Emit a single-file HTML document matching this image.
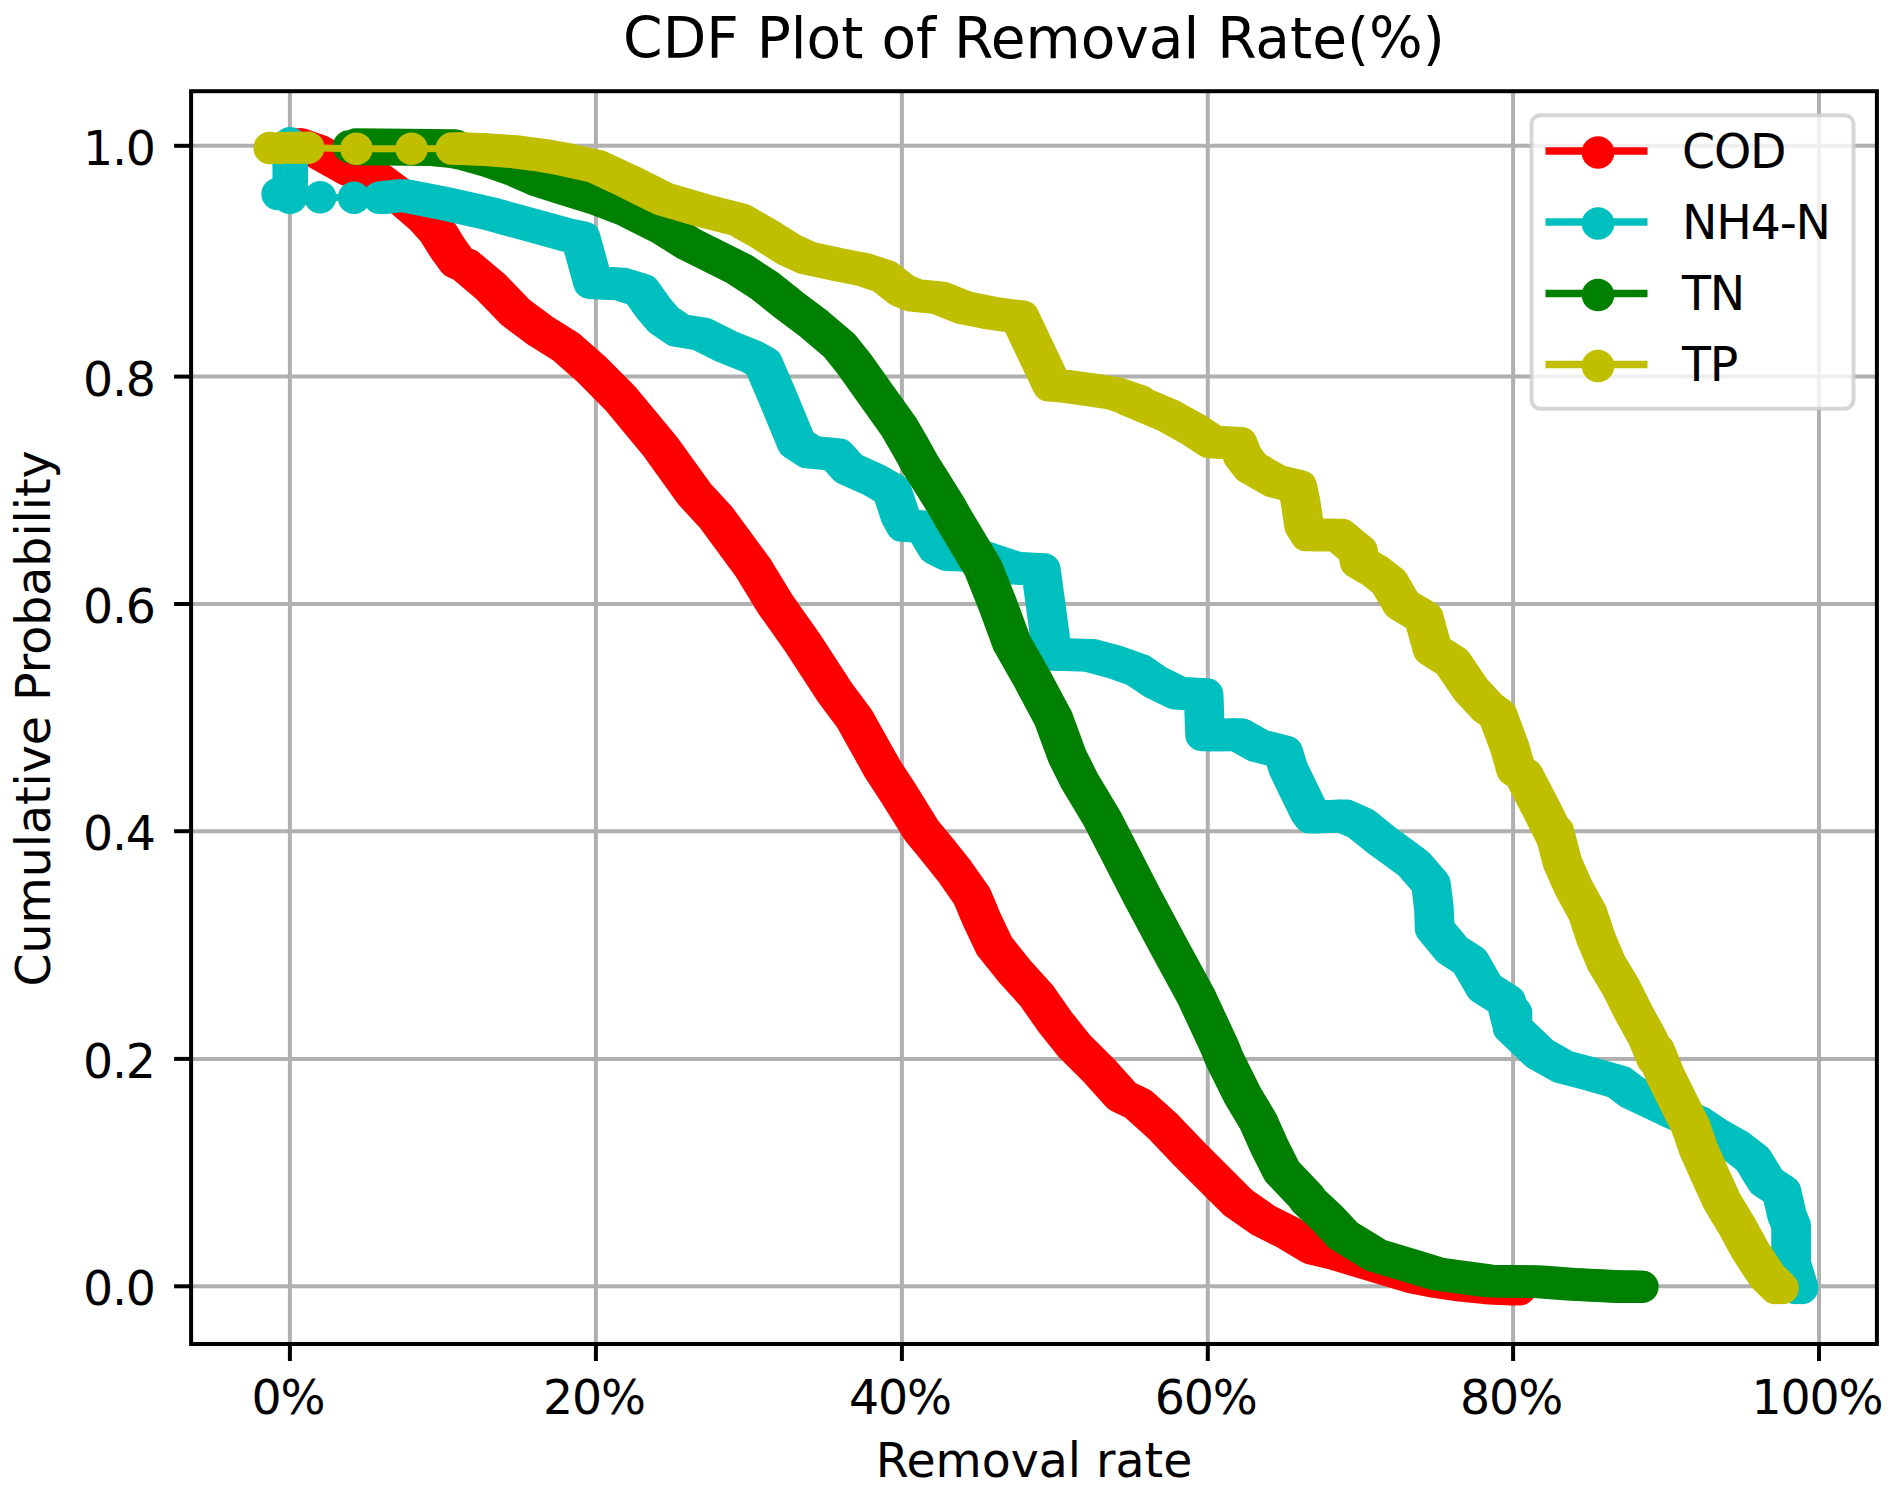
<!DOCTYPE html>
<html lang="en"><head><meta charset="utf-8"><title>CDF Plot of Removal Rate(%)</title>
<style>
html,body{margin:0;padding:0;background:#fff;}
svg{display:block;}
text{font-family:"DejaVu Sans","Liberation Sans",sans-serif;fill:#000;}
</style></head>
<body>
<svg width="1895" height="1510" viewBox="0 0 1895 1510">
<rect x="0" y="0" width="1895" height="1510" fill="#ffffff"/>
<line x1="289.9" y1="91.2" x2="289.9" y2="1344.0" stroke="#b0b0b0" stroke-width="4.0"/>
<line x1="595.9" y1="91.2" x2="595.9" y2="1344.0" stroke="#b0b0b0" stroke-width="4.0"/>
<line x1="901.9" y1="91.2" x2="901.9" y2="1344.0" stroke="#b0b0b0" stroke-width="4.0"/>
<line x1="1207.8" y1="91.2" x2="1207.8" y2="1344.0" stroke="#b0b0b0" stroke-width="4.0"/>
<line x1="1513.1" y1="91.2" x2="1513.1" y2="1344.0" stroke="#b0b0b0" stroke-width="4.0"/>
<line x1="1819.0" y1="91.2" x2="1819.0" y2="1344.0" stroke="#b0b0b0" stroke-width="4.0"/>
<line x1="191.1" y1="145.8" x2="1876.9" y2="145.8" stroke="#b0b0b0" stroke-width="4.0"/>
<line x1="191.1" y1="376.6" x2="1876.9" y2="376.6" stroke="#b0b0b0" stroke-width="4.0"/>
<line x1="191.1" y1="604.0" x2="1876.9" y2="604.0" stroke="#b0b0b0" stroke-width="4.0"/>
<line x1="191.1" y1="831.2" x2="1876.9" y2="831.2" stroke="#b0b0b0" stroke-width="4.0"/>
<line x1="191.1" y1="1058.9" x2="1876.9" y2="1058.9" stroke="#b0b0b0" stroke-width="4.0"/>
<line x1="191.1" y1="1286.3" x2="1876.9" y2="1286.3" stroke="#b0b0b0" stroke-width="4.0"/>
<clipPath id="ax"><rect x="191.1" y="91.2" width="1685.8000000000002" height="1252.8"/></clipPath>
<g clip-path="url(#ax)">
<polyline points="293.3,144.2 313.9,151.4 345.6,169.1 374.1,179.4 393.3,193.6 421.2,217.6 433.8,231.6 444.0,248.0 454.1,262.0 461.8,265.3 486.9,286.5 511.9,312.3 536.9,330.9 562.0,346.6 587.0,368.4 617.3,399.0 656.7,446.5 690.9,494.0 713.0,518.1 749.8,568.2 771.6,604.0 799.4,643.3 831.9,693.3 850.7,718.4 878.7,768.5 895.0,793.5 918.3,831.0 930.8,846.0 950.8,871.0 968.4,896.1 978.9,921.1 990.9,946.2 1010.9,971.2 1033.5,996.2 1051.0,1021.3 1071.0,1046.3 1096.1,1071.3 1118.6,1096.4 1134.4,1103.9 1159.4,1126.4 1184.5,1152.7 1209.5,1177.8 1234.6,1202.8 1259.6,1220.3 1284.6,1232.8 1309.7,1247.9 1334.7,1254.1 1359.7,1261.6 1384.8,1269.2 1409.8,1276.7 1434.9,1281.7 1459.9,1285.4 1484.9,1287.9 1512.5,1289.2" fill="none" stroke="#ff0000" stroke-width="32.5" stroke-linecap="round" stroke-linejoin="round"/><polyline points="300.5,144.2 321.1,151.4 352.8,169.1 381.3,179.4 400.5,193.6 428.4,217.6 441.0,231.6 451.2,248.0 461.3,262.0 469.0,265.3 494.1,286.5 519.1,312.3 544.1,330.9 569.2,346.6 594.2,368.4 624.5,399.0 663.9,446.5 698.1,494.0 720.2,518.1 757.0,568.2 778.8,604.0 806.6,643.3 839.1,693.3 857.9,718.4 885.9,768.5 902.2,793.5 925.5,831.0 938.0,846.0 958.0,871.0 975.6,896.1 986.1,921.1 998.1,946.2 1018.1,971.2 1040.7,996.2 1058.2,1021.3 1078.2,1046.3 1103.3,1071.3 1125.8,1096.4 1141.6,1103.9 1166.6,1126.4 1191.7,1152.7 1216.7,1177.8 1241.8,1202.8 1266.8,1220.3 1291.8,1232.8 1316.9,1247.9 1341.9,1254.1 1366.9,1261.6 1392.0,1269.2 1417.0,1276.7 1442.1,1281.7 1467.1,1285.4 1492.1,1287.9 1519.7,1289.2" fill="none" stroke="#ff0000" stroke-width="32.5" stroke-linecap="round" stroke-linejoin="round"/>
<polyline points="290.2,143.3 290.2,196.4 277.6,193.9" fill="none" stroke="#00bfbf" stroke-width="7" stroke-linecap="round" stroke-linejoin="round"/>
<polyline points="290.2,143.3 290.2,196.4" fill="none" stroke="#00bfbf" stroke-width="35.5" stroke-linecap="butt" stroke-linejoin="round"/>
<circle cx="289.9" cy="143.2" r="16.25" fill="#00bfbf"/>
<circle cx="289.9" cy="196.4" r="17.75" fill="#00bfbf"/>
<polyline points="290.2,196.4 320.2,197.2 354.0,197.7 382.8,197.7" fill="none" stroke="#00bfbf" stroke-width="7" stroke-linecap="round" stroke-linejoin="round"/>
<circle cx="277.6" cy="193.9" r="16.25" fill="#00bfbf"/><circle cx="320.2" cy="197.2" r="16.25" fill="#00bfbf"/><circle cx="354.0" cy="197.7" r="16.25" fill="#00bfbf"/><circle cx="382.8" cy="197.7" r="16.25" fill="#00bfbf"/>
<polyline points="379.2,197.7 399.2,195.4 436.8,202.7 486.9,213.9 536.9,227.7 562.0,234.7 577.0,237.7 589.5,282.8 617.0,284.0 637.1,290.3 649.6,307.8 660.4,320.3 675.4,330.4 698.0,334.1 723.0,346.6 748.0,356.6 759.3,362.9 772.2,392.7 793.1,443.3 807.1,452.2 832.4,454.7 845.1,468.7 870.4,480.0 888.1,490.2 897.0,516.8 902.0,525.6 921.0,526.9 933.7,548.4 946.4,554.8 973.4,555.6 1010.9,568.2 1037.2,569.4 1042.2,605.7 1047.2,643.3 1051.0,654.5 1086.0,655.3 1111.1,662.0 1134.4,670.3 1151.9,682.1 1174.5,693.3 1200.0,694.6 1201.5,734.9 1222.0,734.9 1234.6,734.4 1254.6,745.7 1279.6,751.9 1284.6,768.5 1305.9,812.3 1309.7,817.3 1339.7,815.8 1357.2,823.5 1378.5,840.6 1409.8,863.5 1427.3,883.6 1430.3,908.6 1431.1,928.6 1448.6,949.9 1466.1,961.2 1481.2,987.5 1502.5,1001.2 1507.5,1021.3 1508.8,1012.5 1508.8,1027.5 1536.3,1053.8 1560.1,1067.1 1588.9,1074.6 1615.2,1082.1 1629.0,1092.6 1650.2,1102.7 1671.5,1112.7 1694.1,1122.7 1712.8,1135.2 1732.9,1146.5 1749.1,1159.0 1762.9,1181.5 1777.9,1191.5 1783.4,1215.3 1787.5,1225.3 1787.5,1262.9 1795.0,1287.9" fill="none" stroke="#00bfbf" stroke-width="32.5" stroke-linecap="round" stroke-linejoin="round"/><polyline points="386.4,197.7 406.4,195.4 444.0,202.7 494.1,213.9 544.1,227.7 569.2,234.7 584.2,237.7 596.7,282.8 624.2,284.0 644.3,290.3 656.8,307.8 667.6,320.3 682.6,330.4 705.2,334.1 730.2,346.6 755.2,356.6 766.5,362.9 779.4,392.7 800.3,443.3 814.3,452.2 839.6,454.7 852.3,468.7 877.6,480.0 895.3,490.2 904.2,516.8 909.2,525.6 928.2,526.9 940.9,548.4 953.6,554.8 980.6,555.6 1018.1,568.2 1044.4,569.4 1049.4,605.7 1054.4,643.3 1058.2,654.5 1093.2,655.3 1118.3,662.0 1141.6,670.3 1159.1,682.1 1181.7,693.3 1207.2,694.6 1208.7,734.9 1229.2,734.9 1241.8,734.4 1261.8,745.7 1286.8,751.9 1291.8,768.5 1313.1,812.3 1316.9,817.3 1346.9,815.8 1364.4,823.5 1385.7,840.6 1417.0,863.5 1434.5,883.6 1437.5,908.6 1438.3,928.6 1455.8,949.9 1473.3,961.2 1488.4,987.5 1509.7,1001.2 1514.7,1021.3 1516.0,1012.5 1516.0,1027.5 1543.5,1053.8 1567.3,1067.1 1596.1,1074.6 1622.4,1082.1 1636.2,1092.6 1657.4,1102.7 1678.7,1112.7 1701.3,1122.7 1720.0,1135.2 1740.1,1146.5 1756.3,1159.0 1770.1,1181.5 1785.1,1191.5 1790.6,1215.3 1794.7,1225.3 1794.7,1262.9 1802.2,1287.9" fill="none" stroke="#00bfbf" stroke-width="32.5" stroke-linecap="round" stroke-linejoin="round"/>
<polyline points="348.9,146.6 386.7,147.6 424.3,149.1 451.8,151.8 461.8,153.8 486.9,160.9 511.9,169.6 536.9,180.6 562.0,188.6 592.5,197.9 624.6,210.2 660.4,228.2 685.4,244.0 710.5,256.5 735.5,269.0 760.6,285.3 785.6,305.3 810.6,324.1 835.7,345.4 850.7,364.2 870.2,391.7 895.3,426.8 906.2,445.5 917.4,465.6 927.4,481.3 943.2,506.6 949.6,518.1 979.6,568.2 993.9,604.0 1008.4,643.3 1029.7,680.8 1049.7,718.4 1063.5,755.9 1076.0,781.0 1098.5,818.5 1112.7,846.1 1138.4,896.1 1165.1,946.1 1192.4,996.2 1215.8,1046.3 1220.8,1058.8 1239.6,1096.4 1254.6,1121.4 1265.8,1146.5 1278.4,1171.5 1302.2,1196.5 1304.7,1200.3 1323.4,1217.8 1339.7,1235.4 1372.3,1255.4 1409.8,1266.6 1434.9,1274.2 1484.9,1280.9 1535.0,1281.7 1567.6,1284.2 1617.7,1286.7 1635.2,1286.7" fill="none" stroke="#008000" stroke-width="32.5" stroke-linecap="round" stroke-linejoin="round"/><polyline points="356.1,146.6 393.9,147.6 431.5,149.1 459.0,151.8 469.0,153.8 494.1,160.9 519.1,169.6 544.1,180.6 569.2,188.6 599.7,197.9 631.8,210.2 667.6,228.2 692.6,244.0 717.7,256.5 742.7,269.0 767.8,285.3 792.8,305.3 817.8,324.1 842.9,345.4 857.9,364.2 877.4,391.7 902.5,426.8 913.4,445.5 924.6,465.6 934.6,481.3 950.4,506.6 956.8,518.1 986.8,568.2 1001.1,604.0 1015.6,643.3 1036.9,680.8 1056.9,718.4 1070.7,755.9 1083.2,781.0 1105.7,818.5 1119.9,846.1 1145.6,896.1 1172.3,946.1 1199.6,996.2 1223.0,1046.3 1228.0,1058.8 1246.8,1096.4 1261.8,1121.4 1273.0,1146.5 1285.6,1171.5 1309.4,1196.5 1311.9,1200.3 1330.6,1217.8 1346.9,1235.4 1379.5,1255.4 1417.0,1266.6 1442.1,1274.2 1492.1,1280.9 1542.2,1281.7 1574.8,1284.2 1624.9,1286.7 1642.4,1286.7" fill="none" stroke="#008000" stroke-width="32.5" stroke-linecap="round" stroke-linejoin="round"/>
<polyline points="356.0,146.8 455.0,147.8" fill="none" stroke="#008000" stroke-width="37" stroke-linecap="round" stroke-linejoin="round"/>
<polyline points="269.6,148.1 280.1,148.1 290.2,147.8 299.2,147.8 308.2,147.8 356.5,148.8 411.6,148.8 455.4,148.6" fill="none" stroke="#bfbf00" stroke-width="7" stroke-linecap="round" stroke-linejoin="round"/>
<circle cx="269.6" cy="148.1" r="16.25" fill="#bfbf00"/><circle cx="280.1" cy="148.1" r="16.25" fill="#bfbf00"/><circle cx="290.2" cy="147.8" r="16.25" fill="#bfbf00"/><circle cx="299.2" cy="147.8" r="16.25" fill="#bfbf00"/><circle cx="308.2" cy="147.8" r="16.25" fill="#bfbf00"/><circle cx="356.5" cy="148.8" r="16.25" fill="#bfbf00"/><circle cx="411.6" cy="148.8" r="16.25" fill="#bfbf00"/>
<polyline points="451.8,148.6 481.8,149.6 511.9,151.8 536.9,155.1 562.0,159.6 592.5,166.4 624.6,181.4 660.4,199.2 698.0,210.2 735.5,219.7 760.6,234.0 785.6,249.7 803.1,257.8 835.7,264.8 860.7,269.8 880.7,276.5 898.3,290.3 910.8,295.3 935.8,297.8 960.9,307.8 985.9,312.8 1003.4,315.3 1015.9,316.6 1048.5,385.4 1061.0,386.2 1086.0,389.7 1111.1,393.5 1134.4,401.7 1126.4,399.6 1164.4,415.5 1189.7,429.4 1208.7,442.1 1234.0,443.3 1239.1,456.0 1248.0,467.4 1272.0,481.3 1293.6,486.4 1296.7,500.3 1300.5,525.6 1306.2,535.1 1335.4,535.1 1354.4,551.0 1356.0,561.9 1371.4,571.0 1385.3,581.8 1398.6,604.6 1420.1,617.3 1429.0,649.5 1448.6,662.0 1467.4,689.6 1484.4,707.9 1493.9,714.6 1506.0,747.2 1512.5,769.7 1520.0,774.7 1538.8,811.0 1552.5,838.6 1550.6,830.9 1558.9,862.7 1570.1,887.8 1583.9,912.8 1592.2,937.9 1602.7,962.9 1617.7,987.9 1630.2,1013.0 1644.0,1038.0 1652.8,1059.3 1651.5,1050.1 1661.5,1075.1 1674.0,1100.2 1686.6,1125.2 1695.3,1150.2 1706.6,1175.3 1717.9,1200.3 1732.9,1225.3 1746.6,1250.4 1762.9,1275.4 1775.4,1287.9" fill="none" stroke="#bfbf00" stroke-width="32.5" stroke-linecap="round" stroke-linejoin="round"/><polyline points="459.0,148.6 489.0,149.6 519.1,151.8 544.1,155.1 569.2,159.6 599.7,166.4 631.8,181.4 667.6,199.2 705.2,210.2 742.7,219.7 767.8,234.0 792.8,249.7 810.3,257.8 842.9,264.8 867.9,269.8 887.9,276.5 905.5,290.3 918.0,295.3 943.0,297.8 968.1,307.8 993.1,312.8 1010.6,315.3 1023.1,316.6 1055.7,385.4 1068.2,386.2 1093.2,389.7 1118.3,393.5 1141.6,401.7 1133.6,399.6 1171.6,415.5 1196.9,429.4 1215.9,442.1 1241.2,443.3 1246.3,456.0 1255.2,467.4 1279.2,481.3 1300.8,486.4 1303.9,500.3 1307.7,525.6 1313.4,535.1 1342.6,535.1 1361.6,551.0 1363.2,561.9 1378.6,571.0 1392.5,581.8 1405.8,604.6 1427.3,617.3 1436.2,649.5 1455.8,662.0 1474.6,689.6 1491.6,707.9 1501.1,714.6 1513.2,747.2 1519.7,769.7 1527.2,774.7 1546.0,811.0 1559.7,838.6 1557.8,830.9 1566.1,862.7 1577.3,887.8 1591.1,912.8 1599.4,937.9 1609.9,962.9 1624.9,987.9 1637.4,1013.0 1651.2,1038.0 1660.0,1059.3 1658.7,1050.1 1668.7,1075.1 1681.2,1100.2 1693.8,1125.2 1702.5,1150.2 1713.8,1175.3 1725.1,1200.3 1740.1,1225.3 1753.8,1250.4 1770.1,1275.4 1782.6,1287.9" fill="none" stroke="#bfbf00" stroke-width="32.5" stroke-linecap="round" stroke-linejoin="round"/>
</g>
<line x1="289.9" y1="1344.0" x2="289.9" y2="1361.0" stroke="#000" stroke-width="4.0"/>
<line x1="595.9" y1="1344.0" x2="595.9" y2="1361.0" stroke="#000" stroke-width="4.0"/>
<line x1="901.9" y1="1344.0" x2="901.9" y2="1361.0" stroke="#000" stroke-width="4.0"/>
<line x1="1207.8" y1="1344.0" x2="1207.8" y2="1361.0" stroke="#000" stroke-width="4.0"/>
<line x1="1513.1" y1="1344.0" x2="1513.1" y2="1361.0" stroke="#000" stroke-width="4.0"/>
<line x1="1819.0" y1="1344.0" x2="1819.0" y2="1361.0" stroke="#000" stroke-width="4.0"/>
<line x1="174.1" y1="145.8" x2="191.1" y2="145.8" stroke="#000" stroke-width="4.0"/>
<line x1="174.1" y1="376.6" x2="191.1" y2="376.6" stroke="#000" stroke-width="4.0"/>
<line x1="174.1" y1="604.0" x2="191.1" y2="604.0" stroke="#000" stroke-width="4.0"/>
<line x1="174.1" y1="831.2" x2="191.1" y2="831.2" stroke="#000" stroke-width="4.0"/>
<line x1="174.1" y1="1058.9" x2="191.1" y2="1058.9" stroke="#000" stroke-width="4.0"/>
<line x1="174.1" y1="1286.3" x2="191.1" y2="1286.3" stroke="#000" stroke-width="4.0"/>
<rect x="191.1" y="91.2" width="1685.8000000000002" height="1252.8" fill="none" stroke="#000" stroke-width="4.0"/>
<text x="287.9" y="1414" font-size="47.4" text-anchor="middle" letter-spacing="-1.1">0%</text>
<text x="593.9" y="1414" font-size="47.4" text-anchor="middle" letter-spacing="-1.1">20%</text>
<text x="899.9" y="1414" font-size="47.4" text-anchor="middle" letter-spacing="-1.1">40%</text>
<text x="1205.8" y="1414" font-size="47.4" text-anchor="middle" letter-spacing="-1.1">60%</text>
<text x="1511.1" y="1414" font-size="47.4" text-anchor="middle" letter-spacing="-1.1">80%</text>
<text x="1817.0" y="1414" font-size="47.4" text-anchor="middle" letter-spacing="-1.1">100%</text>
<text x="154.5" y="164.8" font-size="47.4" text-anchor="end" letter-spacing="-1.3">1.0</text>
<text x="154.5" y="395.6" font-size="47.4" text-anchor="end" letter-spacing="-1.3">0.8</text>
<text x="154.5" y="623.0" font-size="47.4" text-anchor="end" letter-spacing="-1.3">0.6</text>
<text x="154.5" y="850.2" font-size="47.4" text-anchor="end" letter-spacing="-1.3">0.4</text>
<text x="154.5" y="1077.9" font-size="47.4" text-anchor="end" letter-spacing="-1.3">0.2</text>
<text x="154.5" y="1305.3" font-size="47.4" text-anchor="end" letter-spacing="-1.3">0.0</text>
<text x="1034" y="1477" font-size="47.4" text-anchor="middle">Removal rate</text>
<text transform="translate(50,718.5) rotate(-90)" font-size="47.4" text-anchor="middle">Cumulative Probability</text>
<text x="1034" y="58" font-size="56.6" text-anchor="middle">CDF Plot of Removal Rate(%)</text>
<rect x="1531.5" y="115.2" width="322" height="293.5" rx="9" ry="9" fill="#ffffff" fill-opacity="0.8" stroke="#cccccc" stroke-opacity="0.8" stroke-width="4"/>
<line x1="1545.5" y1="151" x2="1647.5" y2="151" stroke="#ff0000" stroke-width="7.5"/>
<circle cx="1598" cy="152.5" r="16.3" fill="#ff0000"/>
<text x="1682" y="167.5" font-size="47.4" letter-spacing="-1.2">COD</text>
<line x1="1545.5" y1="222" x2="1647.5" y2="222" stroke="#00bfbf" stroke-width="7.5"/>
<circle cx="1598" cy="223.5" r="16.3" fill="#00bfbf"/>
<text x="1682" y="238.5" font-size="47.4" letter-spacing="-1.2">NH4-N</text>
<line x1="1545.5" y1="293.5" x2="1647.5" y2="293.5" stroke="#008000" stroke-width="7.5"/>
<circle cx="1598" cy="295.0" r="16.3" fill="#008000"/>
<text x="1682" y="310.0" font-size="47.4" letter-spacing="-1.2">TN</text>
<line x1="1545.5" y1="364.5" x2="1647.5" y2="364.5" stroke="#bfbf00" stroke-width="7.5"/>
<circle cx="1598" cy="366.0" r="16.3" fill="#bfbf00"/>
<text x="1682" y="381.0" font-size="47.4" letter-spacing="-1.2">TP</text>
</svg>
</body></html>
